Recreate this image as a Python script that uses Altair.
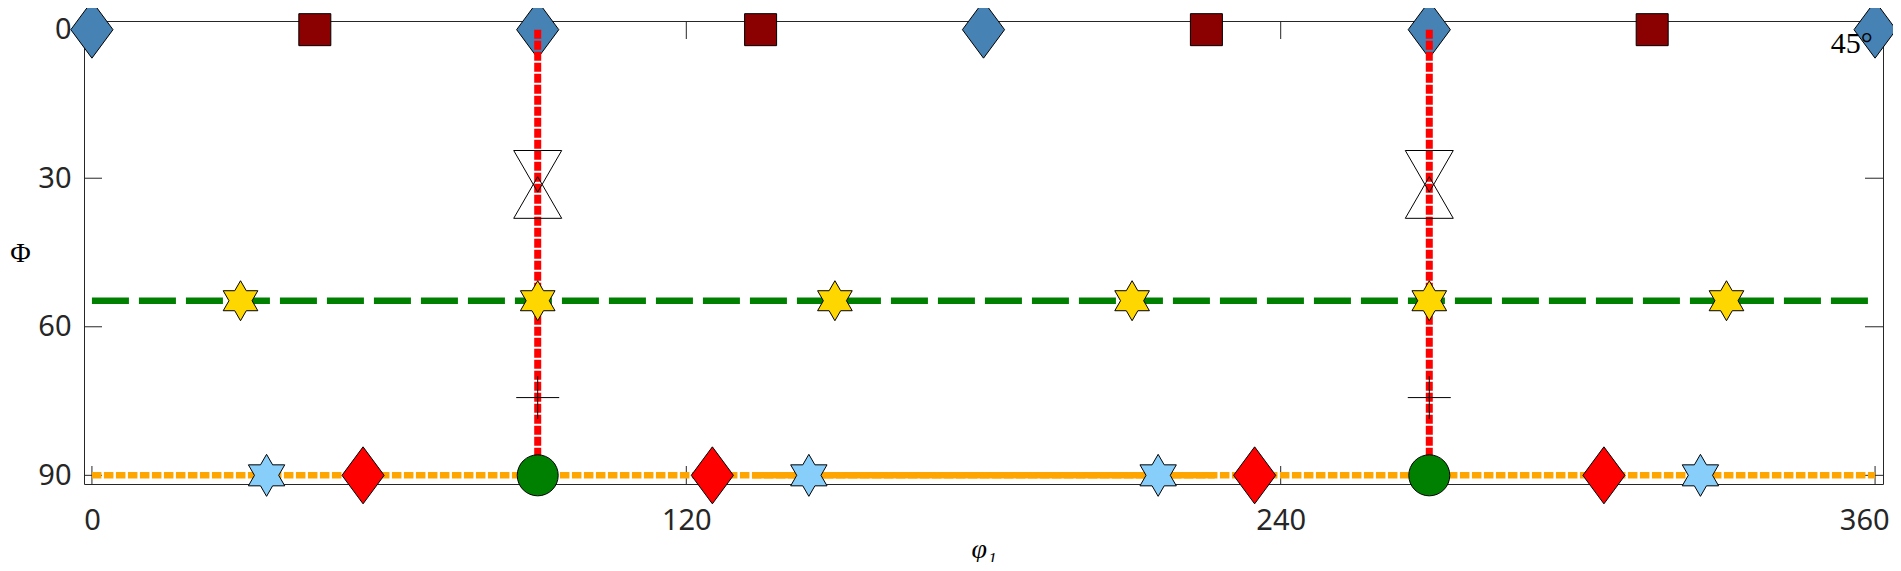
import altair as alt
import pandas as pd

# ---------------- data ----------------
blue_diamond_phi1 = [0, 90, 180, 270, 360]
blue_diamond_Phi = [0, 0, 0, 0, 0]
square_phi1 = [45, 135, 225, 315]
square_Phi = [0, 0, 0, 0]
red_diamond_phi1 = [54.74, 125.26, 234.74, 305.26]
red_diamond_Phi = [90, 90, 90, 90]
lightblue_star_phi1 = [35.26, 144.74, 215.26, 324.74]
lightblue_star_Phi = [90, 90, 90, 90]
gold_star_phi1 = [30, 90, 150, 210, 270, 330]
gold_star_Phi = [54.74, 54.74, 54.74, 54.74, 54.74, 54.74]
circle_phi1 = [90, 270]
circle_Phi = [90, 90]
tri_down_phi1 = [90, 270]
tri_down_Phi = [28.6, 28.6]
tri_up_phi1 = [90, 270]
tri_up_Phi = [33.9, 33.9]
plus_phi1 = [90, 270]
plus_Phi = [74.3, 74.3]
red_line_phi1 = [90, 270]
red_line_Phi_start = [0, 0]
red_line_Phi_end = [90, 90]
green_line_phi1 = [0, 360]
green_line_Phi = [54.74, 54.74]
orange_dotted_phi1 = [0, 360]
orange_dotted_Phi = [90, 90]
orange_solid_phi1 = [133.3, 226.7]
orange_solid_Phi = [90, 90]
x_ticks = [0, 120, 240, 360]
y_ticks = [0, 30, 60, 90]
annot_text = ["45°"]
annot_phi1 = [355.3]
annot_Phi = [2.9]

W, H = 1799, 463
TICK = 18
AX = "#262626"

xs = alt.Scale(domain=[-1.6, 361.6], nice=False, zero=False)
ys = alt.Scale(domain=[-1.75, 91.75], nice=False, zero=False, reverse=True)

xaxis = alt.Axis(values=x_ticks, ticks=False, tickSize=0, domain=False, grid=False,
                 labelFont="Noto Sans", labelFontSize=29, labelColor=AX,
                 labelPadding=22, labelFlush=False, labelOverlap=False,
                 labelAlign={"condition": {"test": "datum.value == 360", "value": "right"},
                             "value": "center"},
                 labelOffset={"condition": {"test": "datum.value == 360", "value": 14},
                              "value": 0},
                 title="φ₁", titleFont="Liberation Serif", titleFontStyle="italic",
                 titleFontSize=28, titleFontWeight="normal", titleColor="black",
                 titleY=73, titleBaseline="alphabetic")
yaxis = alt.Axis(values=y_ticks, ticks=False, tickSize=0, domain=False, grid=False,
                 labelFont="Noto Sans", labelFontSize=29, labelColor=AX,
                 labelPadding=13, labelFlush=False, labelOverlap=False,
                 title="Φ", titleFont="Liberation Serif", titleFontSize=28,
                 titleFontWeight="normal", titleColor="black", titleAngle=0,
                 titleX=-64, titleY=232, titleAlign="center", titleBaseline="middle")


def X():
    return alt.X("x:Q", scale=xs, axis=xaxis)


def Y():
    return alt.Y("y:Q", scale=ys, axis=yaxis)


def df(xv, yv):
    return pd.DataFrame({"x": xv, "y": yv})


DIAMOND = "M0,-1 L0.74,0 L0,1 L-0.74,0 Z"
HEX = ("M0,-1 L0.2887,-0.5 L0.866,-0.5 L0.5774,0 L0.866,0.5 L0.2887,0.5 "
       "L0,1 L-0.2887,0.5 L-0.866,0.5 L-0.5774,0 L-0.866,-0.5 L-0.2887,-0.5 Z")
TRI_DOWN = "M-1,-0.866 L1,-0.866 L0,0.866 Z"
TRI_UP = "M-1,0.866 L1,0.866 L0,-0.866 Z"
PLUS = "M-1,0 L1,0 M0,-1 L0,1"


def pts(data, shape, size, fill, stroke="black", filled=True):
    kw = dict(shape=shape, size=size, stroke=stroke, strokeWidth=1, opacity=1)
    if filled:
        kw.update(filled=True, fill=fill)
    else:
        kw.update(filled=False)
    return alt.Chart(data).mark_point(**kw).encode(x=X(), y=Y())


layers = []

# inward tick marks (drawn first so markers cover them)
xt = pd.DataFrame({"x": x_ticks})
yt = pd.DataFrame({"y": y_ticks})
layers.append(alt.Chart(xt).mark_rule(color=AX, strokeWidth=1).encode(
    x=X(), y=alt.value(0), y2=alt.value(TICK)))
layers.append(alt.Chart(xt).mark_rule(color=AX, strokeWidth=1).encode(
    x=X(), y=alt.value(H), y2=alt.value(H - TICK)))
layers.append(alt.Chart(yt).mark_rule(color=AX, strokeWidth=1).encode(
    y=Y(), x=alt.value(0), x2=alt.value(TICK)))
layers.append(alt.Chart(yt).mark_rule(color=AX, strokeWidth=1).encode(
    y=Y(), x=alt.value(W), x2=alt.value(W - TICK)))

layers.append(pts(df(blue_diamond_phi1, blue_diamond_Phi), DIAMOND, 3249, "#4682B4"))
layers.append(pts(df(square_phi1, square_Phi), "square", 1024, "#8B0000"))

red_df = pd.DataFrame({"x": red_line_phi1, "y": red_line_Phi_start, "y2": red_line_Phi_end})
layers.append(alt.Chart(red_df).mark_rule(color="#FF0000", strokeWidth=7, strokeDash=[9, 2],
                                          strokeCap="butt").encode(x=X(), y=Y(), y2="y2:Q"))

layers.append(alt.Chart(df(green_line_phi1, green_line_Phi)).mark_line(
    color="#008000", strokeWidth=6.5, strokeDash=[37, 10], strokeCap="butt").encode(x=X(), y=Y()))
layers.append(alt.Chart(df(orange_dotted_phi1, orange_dotted_Phi)).mark_line(
    color="#FFA500", strokeWidth=6.5, strokeDash=[9.5, 2.5], strokeCap="butt").encode(x=X(), y=Y()))
layers.append(alt.Chart(df(orange_solid_phi1, orange_solid_Phi)).mark_line(
    color="#FFA500", strokeWidth=6.5, strokeCap="butt").encode(x=X(), y=Y()))

layers.append(pts(df(tri_down_phi1, tri_down_Phi), TRI_DOWN, 2304, None, filled=False))
layers.append(pts(df(tri_up_phi1, tri_up_Phi), TRI_UP, 2304, None, filled=False))
layers.append(pts(df(plus_phi1, plus_Phi), PLUS, 1849, None, filled=False))
layers.append(pts(df(gold_star_phi1, gold_star_Phi), HEX, 1600, "#FFD700"))
layers.append(pts(df(lightblue_star_phi1, lightblue_star_Phi), HEX, 1764, "#87CEFA"))
layers.append(pts(df(red_diamond_phi1, red_diamond_Phi), DIAMOND, 3249, "#FF0000"))
layers.append(pts(df(circle_phi1, circle_Phi), "circle", 1681, "#008000"))

ann = pd.DataFrame({"x": annot_phi1, "y": annot_Phi, "t": annot_text})
layers.append(alt.Chart(ann).mark_text(font="Liberation Serif", fontSize=30, color="black",
                                       align="center", baseline="middle").encode(
    x=X(), y=Y(), text="t:N"))

chart = alt.layer(*layers).properties(
    width=W, height=H,
    autosize=alt.AutoSizeParams(type="none"),
    padding={"left": 76, "top": 13, "right": 10, "bottom": 78},
    background="white",
).configure_view(stroke=AX, strokeWidth=1)

chart.save("out.html", embed_options={"renderer": "svg", "actions": False})
